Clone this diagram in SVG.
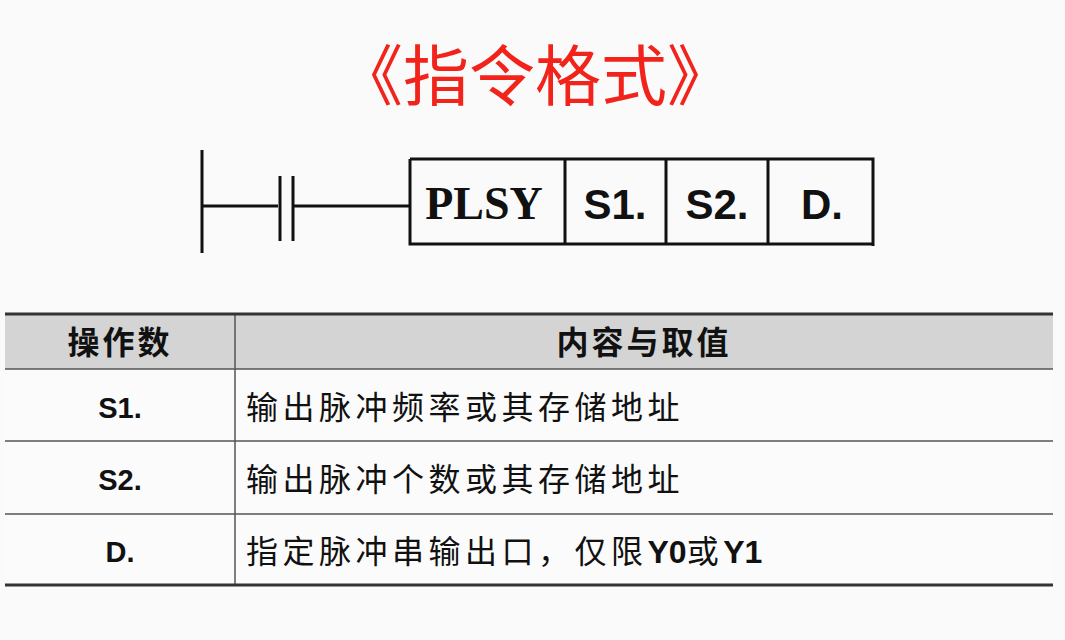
<svg xmlns="http://www.w3.org/2000/svg" width="1065" height="640" viewBox="0 0 1065 640">
<style>
.cjk{font-family:"Noto Sans CJK SC","Noto Sans",sans-serif}
.ln{stroke:#111;stroke-width:3;fill:none}
.tl{stroke:#555;stroke-width:1.5;fill:none}
.op{font-family:"Liberation Sans",Arial,sans-serif;font-weight:bold;font-size:29px;fill:#111;text-anchor:middle}
.ct{font-family:"Noto Sans CJK SC",sans-serif;font-size:32px;letter-spacing:4.5px;fill:#111}
</style>
<rect width="1065" height="640" fill="#fafafa"/>
<text x="535" y="100" text-anchor="middle" class="cjk" font-size="66" fill="#f2231b">《指令格式》</text>
<g id="ladder">
<line class="ln" x1="202" y1="150" x2="202" y2="253"/>
<line class="ln" x1="202" y1="206" x2="278" y2="206"/>
<line class="ln" x1="280" y1="176" x2="280" y2="241" stroke-width="2.5"/>
<line class="ln" x1="293" y1="176" x2="293" y2="241" stroke-width="2.5"/>
<line class="ln" x1="293" y1="206" x2="410" y2="206"/>
</g>
<g id="box">
<path class="ln" d="M410 159H873V246M410 159V244H873"/>
<line class="ln" x1="565" y1="159" x2="565" y2="244" stroke-width="2"/>
<line class="ln" x1="666" y1="159" x2="666" y2="244" stroke-width="2"/>
<line class="ln" x1="768" y1="159" x2="768" y2="244" stroke-width="2"/>
<text x="484" y="219" text-anchor="middle" font-family="Liberation Serif,serif" font-weight="bold" font-size="46" fill="#111">PLSY</text>
<text x="615" y="219" text-anchor="middle" font-family="Liberation Sans,sans-serif" font-weight="bold" font-size="42" fill="#111">S1.</text>
<text x="717" y="219" text-anchor="middle" font-family="Liberation Sans,sans-serif" font-weight="bold" font-size="42" fill="#111">S2.</text>
<text x="822" y="219" text-anchor="middle" font-family="Liberation Sans,sans-serif" font-weight="bold" font-size="42" fill="#111">D.</text>
</g>
<g id="table">
<rect x="5" y="314" width="1048" height="55" fill="#d4d4d4"/>
<rect x="5" y="369" width="1048" height="216" fill="#fbfbfb"/>
<line class="tl" x1="5" y1="369" x2="1053" y2="369"/>
<line class="tl" x1="5" y1="441" x2="1053" y2="441"/>
<line class="tl" x1="5" y1="514" x2="1053" y2="514"/>
<line class="tl" x1="235" y1="314" x2="235" y2="585"/>
<line x1="5" y1="314" x2="1053" y2="314" stroke="#333" stroke-width="3"/>
<line x1="5" y1="585" x2="1053" y2="585" stroke="#333" stroke-width="3"/>
<text x="120" y="354" text-anchor="middle" class="cjk" font-size="32" font-weight="bold" letter-spacing="3" fill="#111">操作数</text>
<text x="644" y="354" text-anchor="middle" class="cjk" font-size="32" font-weight="bold" letter-spacing="3" fill="#111">内容与取值</text>
<text x="120" y="418" class="op">S1.</text>
<text x="120" y="490" class="op">S2.</text>
<text x="120" y="562" class="op">D.</text>
<text x="246" y="419" class="ct">输出脉冲频率或其存储地址</text>
<text x="246" y="491" class="ct">输出脉冲个数或其存储地址</text>
<text x="246" y="563" class="ct">指定脉冲串输出口，仅限<tspan font-family="Liberation Sans,sans-serif" font-weight="bold" letter-spacing="0">Y0</tspan>或<tspan font-family="Liberation Sans,sans-serif" font-weight="bold" letter-spacing="0">Y1</tspan></text>
</g>
</svg>
